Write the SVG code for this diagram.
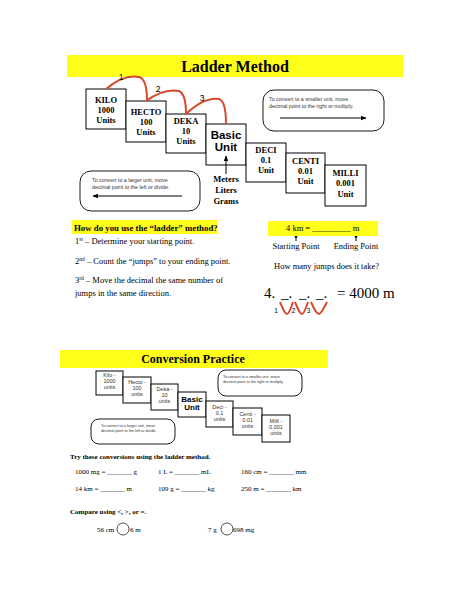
<svg xmlns="http://www.w3.org/2000/svg" width="474" height="611" viewBox="0 0 474 611">
<style>
.bx{fill:#fff;stroke:#000;stroke-width:1}
.rb{fill:#fff;stroke:#000;stroke-width:0.9}
.ser{font-family:"Liberation Serif",serif}
.sans{font-family:"Liberation Sans",Arial,sans-serif}
.bt{font-family:"Liberation Serif",serif;font-weight:bold;font-size:8.5px;text-anchor:middle}
.st{font-family:"Liberation Sans",Arial,sans-serif;font-size:5.5px;text-anchor:middle;fill:#333}
.rt{fill:none;stroke:#d9482b;stroke-width:2}
.ln{stroke:#000;stroke-width:1;fill:none}
.yl{fill:#ffff1a}
.body{font-family:"Liberation Serif",serif;font-size:8.5px}
.sm{font-family:"Liberation Serif",serif;font-size:7px}
</style>
<defs>
<marker id="ah" viewBox="0 0 10 10" refX="9" refY="5" markerWidth="6" markerHeight="6" orient="auto-start-reverse" markerUnits="userSpaceOnUse"><path d="M0,1 L10,5 L0,9 Z" fill="#000"/></marker>
<marker id="ahs" viewBox="0 0 10 10" refX="9" refY="5" markerWidth="4" markerHeight="4" orient="auto-start-reverse" markerUnits="userSpaceOnUse"><path d="M0,1 L10,5 L0,9 Z" fill="#000"/></marker>
</defs>
<rect width="474" height="611" fill="#fff"/>

<!-- Title banner -->
<g id="title1">
<rect class="yl" x="67" y="55" width="336" height="22"/>
<text class="ser" x="235" y="72" font-size="16" font-weight="bold" text-anchor="middle">Ladder Method</text>
</g>

<!-- top ladder -->
<g id="kilo"><rect class="bx" x="86" y="89" width="40" height="40"/>
<text class="bt" x="106" y="103">KILO</text><text class="bt" x="106" y="113">1000</text><text class="bt" x="106" y="123">Units</text></g>
<g id="hecto"><rect class="bx" x="126" y="101" width="40" height="41"/>
<text class="bt" x="146" y="115">HECTO</text><text class="bt" x="146" y="125">100</text><text class="bt" x="146" y="135">Units</text></g>
<g id="deka"><rect class="bx" x="166" y="114" width="40" height="39"/>
<text class="bt" x="186" y="124">DEKA</text><text class="bt" x="186" y="134">10</text><text class="bt" x="186" y="144">Units</text></g>
<g id="basic"><rect class="bx" x="206" y="124" width="40" height="41"/>
<text class="sans" x="226" y="139" font-size="11.5" font-weight="bold" text-anchor="middle">Basic</text>
<text class="sans" x="226" y="151" font-size="11.5" font-weight="bold" text-anchor="middle">Unit</text></g>
<g id="deci"><rect class="bx" x="246" y="143" width="40" height="39"/>
<text class="bt" x="266" y="153">DECI</text><text class="bt" x="266" y="163">0.1</text><text class="bt" x="266" y="173">Unit</text></g>
<g id="centi"><rect class="bx" x="286" y="153" width="39" height="40"/>
<text class="bt" x="305.5" y="164">CENTI</text><text class="bt" x="305.5" y="174">0.01</text><text class="bt" x="305.5" y="184">Unit</text></g>
<g id="milli"><rect class="bx" x="325" y="165" width="41" height="41"/>
<text class="bt" x="345.5" y="176">MILLI</text><text class="bt" x="345.5" y="186">0.001</text><text class="bt" x="345.5" y="197">Unit</text></g>

<g id="meters">
<text class="bt" x="226" y="182">Meters</text><text class="bt" x="226" y="193">Liters</text><text class="bt" x="226" y="204">Grams</text>
</g>

<g id="smallerbox">
<rect class="rb" x="263" y="90" width="121" height="41" rx="11"/>
<text class="sans" x="269" y="101" font-size="5.3" fill="#333">To convert to a smaller unit, move</text>
<text class="sans" x="269" y="108" font-size="5.3" fill="#333">decimal  point to the right or multiply.</text>
</g>
<g id="largerbox">
<rect class="rb" x="80" y="171" width="120" height="40" rx="11"/>
<text class="sans" x="92" y="182" font-size="5.3" fill="#333">To convert to a larger unit, move</text>
<text class="sans" x="92" y="189" font-size="5.3" fill="#333">decimal  point to the left or divide.</text>
</g>

<g id="connectors">
<path class="ln" d="M280,118 L366,118" marker-end="url(#ah)"/>
<path class="ln" d="M182,196 L93,196" marker-end="url(#ah)"/>
<path class="ln" d="M226,174 L226,156" marker-end="url(#ah)" stroke-width="1.5"/>
<path class="rt" d="M106,89 Q124,74 139,77 Q147,79 147,101"/>
<path class="rt" d="M146,101 Q164,88 179,91 Q186,94 186,114"/>
<path class="rt" d="M186,114 Q204,97 219,99 Q226,101 226,124"/>
<path class="ln" d="M296,241 L296,234" marker-end="url(#ahs)" stroke-width="1.2"/>
<path class="ln" d="M356,241 L356,234" marker-end="url(#ahs)" stroke-width="1.2"/>
<path class="rt" d="M280,302 C283,309 285,314 287,314 C289,314 291,308 293,302"/>
<path class="rt" d="M295,302 C298,309 300,314 302,314 C304,314 306,308 308,302"/>
<path class="rt" d="M311,302 C314,309 317,314 319,314 C321,314 324,308 327,302"/>
<path class="ln" d="M235,388 L290,388" marker-end="url(#ahs)" stroke-width="0.7"/>
<path class="ln" d="M167,436 L102,436" marker-end="url(#ahs)" stroke-width="0.7"/>
</g>
<g id="arclabels" class="sans" font-size="8.5" text-anchor="middle">
<text x="121" y="80">1</text><text x="158" y="92">2</text><text x="202" y="101">3</text>
</g>

<!-- section 2 -->
<g id="howto">
<rect class="yl" x="72" y="220" width="145" height="14"/>
<text class="ser" x="74" y="231" font-size="8.8" font-weight="bold">How do you use the “ladder” method?</text>
<text class="body" x="75" y="244">1<tspan font-size="5.5" dy="-3">st</tspan><tspan dy="3"> – Determine your starting point.</tspan></text>
<text class="body" x="75" y="264">2<tspan font-size="5.5" dy="-3">nd</tspan><tspan dy="3"> – Count the “jumps” to your ending point.</tspan></text>
<text class="body" x="75" y="283">3<tspan font-size="5.5" dy="-3">rd</tspan><tspan dy="3"> – Move the decimal the same number of</tspan></text>
<text class="body" x="75" y="296">jumps in the same direction.</text>
</g>
<g id="example">
<rect class="yl" x="268" y="221" width="110" height="15"/>
<text class="body" x="286" y="231">4 km = _________ m</text>
<text class="body" x="296" y="249" text-anchor="middle">Starting Point</text>
<text class="body" x="356" y="249" text-anchor="middle">Ending Point</text>
<text class="body" x="274" y="269">How many jumps does it take?</text>
<text class="ser" x="264" y="298" font-size="15">4. <tspan x="281">_.</tspan><tspan x="299">_.</tspan><tspan x="316">_.</tspan><tspan x="337">= 4000 m</tspan></text>
<g class="sans" font-size="6.5" text-anchor="middle"><text x="276" y="313">1</text><text x="293.5" y="313">2</text><text x="308.5" y="313">3</text></g>
</g>

<!-- section 3 -->
<g id="title2">
<rect class="yl" x="60" y="350" width="268" height="18"/>
<text class="ser" x="193" y="363" font-size="12" font-weight="bold" text-anchor="middle">Conversion Practice</text>
</g>
<g id="s-kilo"><rect class="bx" x="96" y="371" width="27" height="24" stroke-width="0.7"/>
<text class="st" x="109.5" y="377">Kilo -</text><text class="st" x="109.5" y="383">1000</text><text class="st" x="109.5" y="389">units</text></g>
<g id="s-hecto"><rect class="bx" x="123" y="377" width="28" height="26" stroke-width="0.7"/>
<text class="st" x="137" y="384">Hecto -</text><text class="st" x="137" y="390">100</text><text class="st" x="137" y="396">units</text></g>
<g id="s-deka"><rect class="bx" x="151" y="384" width="27" height="26" stroke-width="0.7"/>
<text class="st" x="164.5" y="391">Deka -</text><text class="st" x="164.5" y="397">10</text><text class="st" x="164.5" y="403">units</text></g>
<g id="s-basic"><rect class="bx" x="178" y="392" width="28" height="25" stroke-width="0.7"/>
<text class="sans" x="192" y="402" font-size="8" font-weight="bold" text-anchor="middle">Basic</text>
<text class="sans" x="192" y="410" font-size="8" font-weight="bold" text-anchor="middle">Unit</text></g>
<g id="s-deci"><rect class="bx" x="206" y="401" width="27" height="26" stroke-width="0.7"/>
<text class="st" x="219.5" y="409">Deci -</text><text class="st" x="219.5" y="415">0.1</text><text class="st" x="219.5" y="421">units</text></g>
<g id="s-centi"><rect class="bx" x="233" y="408" width="29" height="27" stroke-width="0.7"/>
<text class="st" x="247.5" y="416">Centi -</text><text class="st" x="247.5" y="422">0.01</text><text class="st" x="247.5" y="428">units</text></g>
<g id="s-milli"><rect class="bx" x="262" y="415" width="28" height="27" stroke-width="0.7"/>
<text class="st" x="276" y="423">Milli -</text><text class="st" x="276" y="429">0.001</text><text class="st" x="276" y="435">units</text></g>
<g id="s-smallerbox">
<rect class="rb" x="218" y="370" width="84" height="26" rx="8" stroke-width="0.6"/>
<text class="sans" x="223" y="377.5" font-size="3.8" fill="#333">To convert to a smaller unit, move</text>
<text class="sans" x="223" y="382.5" font-size="3.8" fill="#333">decimal  point to the right or multiply.</text>
</g>
<g id="s-largerbox">
<rect class="rb" x="91" y="419" width="84" height="25" rx="8" stroke-width="0.6"/>
<text class="sans" x="101" y="426.5" font-size="3.8" fill="#333">To convert to a larger unit, move</text>
<text class="sans" x="101" y="431.5" font-size="3.8" fill="#333">decimal  point to the left or divide.</text>
</g>

<g id="practice">
<text class="sm" x="70" y="459" font-weight="bold">Try these conversions using the ladder method.</text>
<text class="sm" x="75" y="474">1000 mg = _______ g</text>
<text class="sm" x="158" y="474">1 L = _______ mL</text>
<text class="sm" x="241" y="474">160 cm = _______ mm</text>
<text class="sm" x="75" y="491">14 km = _______ m</text>
<text class="sm" x="158" y="491">109 g = _______ kg</text>
<text class="sm" x="241" y="491">250 m = _______ km</text>
<text class="sm" x="70" y="514" font-weight="bold">Compare using &lt;, &gt;, or =.</text>
<text class="sm" x="97" y="532">56 cm</text>
<circle cx="123" cy="529" r="6" fill="none" stroke="#000" stroke-width="0.7"/>
<text class="sm" x="130" y="532">6 m</text>
<text class="sm" x="208" y="532">7 g</text>
<circle cx="227" cy="529" r="6" fill="none" stroke="#000" stroke-width="0.7"/>
<text class="sm" x="233" y="532">698 mg</text>
</g>
</svg>
